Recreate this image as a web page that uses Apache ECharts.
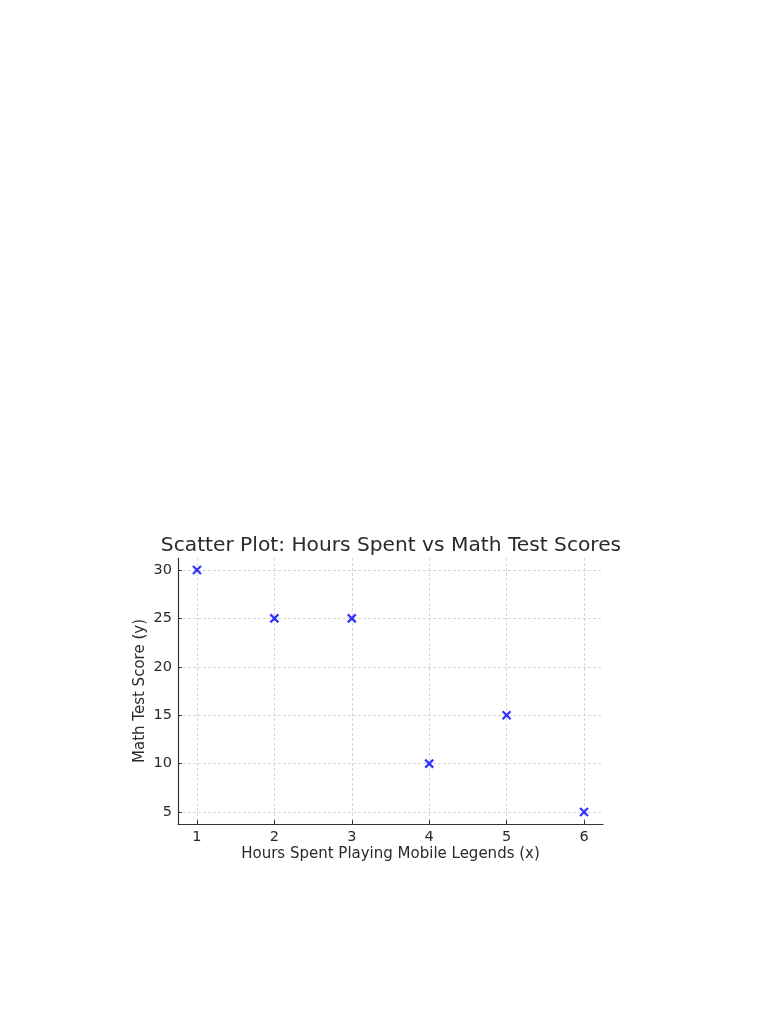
<!DOCTYPE html>
<html><head><meta charset="utf-8">
<script src="https://cdn.jsdelivr.net/npm/echarts@6/dist/echarts.min.js"></script>
<style>html,body{margin:0;padding:0;background:#fff}#c{width:768px;height:1024px}</style>
</head><body><div id="c"></div>
<script>
const hours = [1, 2, 3, 4, 5, 6];
const scores = [30, 25, 25, 10, 15, 5];
const xTicks = [1, 2, 3, 4, 5, 6];
const yTicks = [5, 10, 15, 20, 25, 30];

const chart = echarts.init(document.getElementById('c'));
const font = 'DejaVu Sans';
chart.setOption({
  animation: false,
  backgroundColor: '#fff',
  title: {
    text: 'Scatter Plot: Hours Spent vs Math Test Scores',
    left: 386, top: 531, textAlign: 'center',
    textStyle: { fontFamily: font, fontSize: 20.2, fontWeight: 'normal', color: '#2a2a2a' }
  },
  grid: { left: 178, right: 165, top: 558, bottom: 200 },
  xAxis: {
    type: 'value', min: 0.755, max: 6.245,
    name: 'Hours Spent Playing Mobile Legends (x)', nameLocation: 'middle', nameGap: 23,
    nameMoveOverlap: false,
    nameTextStyle: { fontFamily: font, fontSize: 15, color: '#2a2a2a' },
    axisLine: { show: true, onZero: false, lineStyle: { color: '#333', width: 1.2 } },
    axisTick: { show: true, inside: true, length: 4, customValues: xTicks, lineStyle: { color: '#333' } },
    axisLabel: { customValues: xTicks, fontFamily: font, fontSize: 14.5, color: '#2a2a2a', margin: 6 },
    splitLine: { show: true, lineStyle: { color: '#ccc', type: [3, 2], width: 0.8 } }
  },
  yAxis: {
    type: 'value', min: 3.76, max: 31.24,
    name: 'Math Test Score (y)', nameLocation: 'middle', nameGap: 30, nameRotate: 90,
    nameMoveOverlap: false,
    nameTextStyle: { fontFamily: font, fontSize: 15, color: '#2a2a2a' },
    axisLine: { show: true, onZero: false, lineStyle: { color: '#333', width: 1.2 } },
    axisTick: { show: true, inside: true, length: 4, customValues: yTicks, lineStyle: { color: '#333' } },
    axisLabel: { customValues: yTicks, fontFamily: font, fontSize: 14.5, color: '#2a2a2a', margin: 6 },
    splitLine: { show: true, lineStyle: { color: '#ccc', type: [3, 2], width: 0.8 } }
  },
  series: [{
    type: 'scatter',
    data: hours.map((h, i) => [h, scores[i]]),
    symbol: 'path://M0,0L10,10M10,0L0,10',
    symbolSize: 8,
    itemStyle: { color: 'none', borderColor: '#0000ff', borderWidth: 2.2 }
  }]
});
</script></body></html>
